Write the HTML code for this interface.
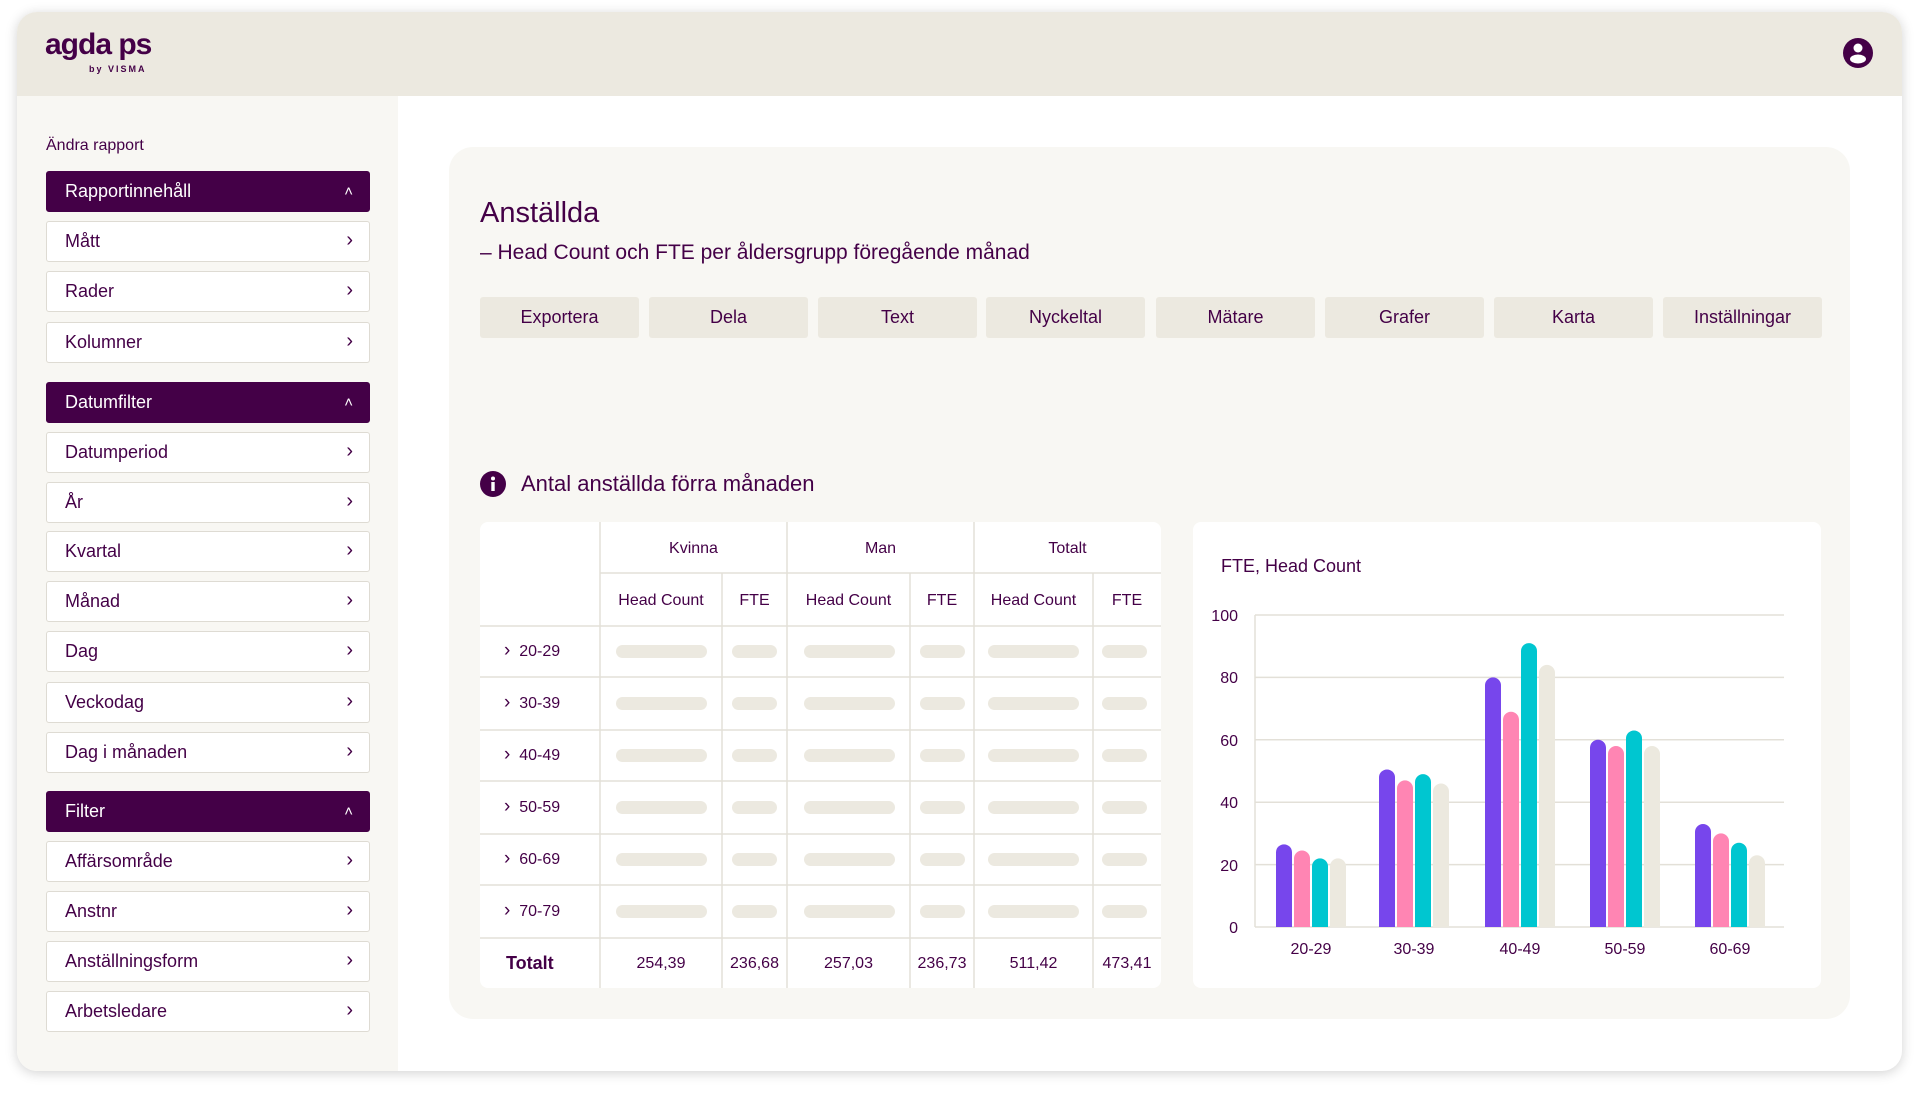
<!DOCTYPE html>
<html><head><meta charset="utf-8"><style>
*{box-sizing:border-box;margin:0;padding:0}
body{width:1920px;height:1095px;background:#fff;font-family:"Liberation Sans",sans-serif;color:#440047;position:relative;overflow:hidden}
.win{position:absolute;left:17px;top:12px;width:1885px;height:1059px;border-radius:20px;background:#fff;box-shadow:0 2px 12px rgba(0,0,0,.18);overflow:hidden}
.hdr{position:absolute;left:0;top:0;width:100%;height:84px;background:#ece9e0}
.side{position:absolute;left:0;top:84px;width:381px;height:975px;background:#f8f7f3}
.a{position:absolute}
.item{position:absolute;left:29px;width:324px;height:41px;border:1.5px solid #dedbd3;background:#fff;border-radius:3px;font-size:18px;line-height:38px;padding-left:18px}
.item:after{content:"›";position:absolute;right:16px;top:-1px;font-size:20px}
.item.dk{background:#440047;color:#fff;border-color:#440047}
.item.dk:after{content:"˄";font-size:15px;top:1px}
.card{position:absolute;left:432px;top:135px;width:1401px;height:872px;background:#f8f7f3;border-radius:24px}
.btn{position:absolute;top:150px;height:41px;width:159px;background:#ece9e0;border-radius:3px;text-align:center;line-height:41px;font-size:18px}
.pill{position:absolute;height:13px;background:#ece9e0;border-radius:7px}
.t{position:absolute;text-align:center;font-size:16px}
</style></head><body>
<div class="win">
 <div class="hdr">
  <div class="a" style="left:28px;top:18px;font-size:30px;font-weight:bold;letter-spacing:-1px;line-height:30px">agda ps</div>
  <div class="a" style="left:72px;top:52px;font-size:9px;font-weight:bold;letter-spacing:2px">by VISMA</div>
  <svg class="a" style="left:1826px;top:26px" width="30" height="30" viewBox="0 0 30 30"><circle cx="15" cy="15" r="15" fill="#440047"/><circle cx="15" cy="10" r="4.5" fill="#fff"/><ellipse cx="15" cy="21" rx="8" ry="4.5" fill="#fff"/></svg>
 </div>
 <div class="side">
  <div class="a" style="left:29px;top:41px;font-size:16px">Ändra rapport</div>
 </div>
 <div class="item dk" style="top:159px">Rapportinnehåll</div>
 <div class="item" style="top:209px">Mått</div>
 <div class="item" style="top:259px">Rader</div>
 <div class="item" style="top:310px">Kolumner</div>
 <div class="item dk" style="top:370px">Datumfilter</div>
 <div class="item" style="top:420px">Datumperiod</div>
 <div class="item" style="top:470px">År</div>
 <div class="item" style="top:519px">Kvartal</div>
 <div class="item" style="top:569px">Månad</div>
 <div class="item" style="top:619px">Dag</div>
 <div class="item" style="top:670px">Veckodag</div>
 <div class="item" style="top:720px">Dag i månaden</div>
 <div class="item dk" style="top:779px">Filter</div>
 <div class="item" style="top:829px">Affärsområde</div>
 <div class="item" style="top:879px">Anstnr</div>
 <div class="item" style="top:929px">Anställningsform</div>
 <div class="item" style="top:979px">Arbetsledare</div>

 <div class="card">
  <div class="a" style="left:31px;top:50px;font-size:29px">Anställda</div>
  <div class="a" style="left:31px;top:94px;font-size:21px">– Head Count och FTE per åldersgrupp föregående månad</div>
  <div class="btn" style="left:31px">Exportera</div>
  <div class="btn" style="left:200px">Dela</div>
  <div class="btn" style="left:369px">Text</div>
  <div class="btn" style="left:537px">Nyckeltal</div>
  <div class="btn" style="left:707px">Mätare</div>
  <div class="btn" style="left:876px">Grafer</div>
  <div class="btn" style="left:1045px">Karta</div>
  <div class="btn" style="left:1214px">Inställningar</div>
  <svg class="a" style="left:31px;top:324px" width="26" height="26"><circle cx="13" cy="13" r="13" fill="#440047"/><rect x="11.3" y="11" width="3.4" height="9" fill="#fff"/><circle cx="13" cy="7.5" r="2" fill="#fff"/></svg>
  <div class="a" style="left:72px;top:324px;font-size:22px">Antal anställda förra månaden</div>
 </div>

 <div class="a" style="left:463px;top:510px;width:681px;height:466px;background:#fff;border-radius:8px">
  <svg class="a" style="left:0;top:0" width="681" height="466">
   <g stroke="#e3e0d8" stroke-width="1.5">
    <line x1="120" y1="0" x2="120" y2="466"/><line x1="307" y1="0" x2="307" y2="466"/><line x1="494" y1="0" x2="494" y2="466"/>
    <line x1="242" y1="51" x2="242" y2="466"/><line x1="430" y1="51" x2="430" y2="466"/><line x1="613" y1="51" x2="613" y2="466"/>
    <line x1="120" y1="51" x2="681" y2="51"/>
    <line x1="0" y1="104" x2="681" y2="104"/><line x1="0" y1="155" x2="681" y2="155"/><line x1="0" y1="208" x2="681" y2="208"/>
    <line x1="0" y1="259" x2="681" y2="259"/><line x1="0" y1="312" x2="681" y2="312"/><line x1="0" y1="363" x2="681" y2="363"/><line x1="0" y1="416" x2="681" y2="416"/>
   </g>
  </svg>
  <div class="t" style="left:120px;width:187px;top:18px">Kvinna</div>
  <div class="t" style="left:307px;width:187px;top:18px">Man</div>
  <div class="t" style="left:494px;width:187px;top:18px">Totalt</div>
  <div class="t" style="left:120px;width:122px;top:70px">Head Count</div>
  <div class="t" style="left:242px;width:65px;top:70px">FTE</div>
  <div class="t" style="left:307px;width:123px;top:70px">Head Count</div>
  <div class="t" style="left:430px;width:64px;top:70px">FTE</div>
  <div class="t" style="left:494px;width:119px;top:70px">Head Count</div>
  <div class="t" style="left:613px;width:68px;top:70px">FTE</div>
  <div id="rows"></div>
  <div class="a" style="left:26px;top:431px;font-size:18px;font-weight:bold">Totalt</div>
  <div class="t" style="left:120px;width:122px;top:433px">254,39</div>
  <div class="t" style="left:242px;width:65px;top:433px">236,68</div>
  <div class="t" style="left:307px;width:123px;top:433px">257,03</div>
  <div class="t" style="left:430px;width:64px;top:433px">236,73</div>
  <div class="t" style="left:494px;width:119px;top:433px">511,42</div>
  <div class="t" style="left:613px;width:68px;top:433px">473,41</div>
 </div>

 <div class="a" style="left:1176px;top:510px;width:628px;height:466px;background:#fff;border-radius:8px">
  <div class="a" style="left:28px;top:34px;font-size:18px">FTE, Head Count</div>
  <svg class="a" style="left:0;top:0" width="628" height="466">
   <g stroke="#e3e0d8" stroke-width="1.5">
    <line x1="62" y1="93" x2="591" y2="93"/><line x1="62" y1="155.4" x2="591" y2="155.4"/><line x1="62" y1="217.8" x2="591" y2="217.8"/>
    <line x1="62" y1="280.2" x2="591" y2="280.2"/><line x1="62" y1="342.6" x2="591" y2="342.6"/><line x1="62" y1="405" x2="591" y2="405"/>
    <line x1="62" y1="93" x2="62" y2="405"/>
   </g>
   <g font-family="Liberation Sans,sans-serif" font-size="16" fill="#440047" text-anchor="end">
    <text x="45" y="99">100</text><text x="45" y="161">80</text><text x="45" y="224">60</text><text x="45" y="286">40</text><text x="45" y="349">20</text><text x="45" y="411">0</text>
   </g>
   <g font-family="Liberation Sans,sans-serif" font-size="16" fill="#440047" text-anchor="middle">
    <text x="118" y="432">20-29</text><text x="221" y="432">30-39</text><text x="327" y="432">40-49</text><text x="432" y="432">50-59</text><text x="537" y="432">60-69</text>
   </g>
   <g id="bars"></g>
  </svg>
 </div>
</div>
<script>
var rows=["20-29","30-39","40-49","50-59","60-69","70-79"],h="";
var pills=[[136,91],[252,45],[324,91],[440,45],[508,91],[622,45]];
rows.forEach(function(r,i){var y=104+i*52;
 h+='<div class="a" style="left:24px;top:'+(y+14)+'px;font-size:16px"><span style="font-size:19px">›</span>&nbsp;&nbsp;'+r+'</div>';
 pills.forEach(function(p){h+='<div class="pill" style="left:'+p[0]+'px;width:'+p[1]+'px;top:'+(y+19)+'px"></div>'});
});
document.getElementById("rows").innerHTML=h;
var d=[[26.5,24.5,22,22],[50.5,47,49,46],[80,69,91,84],[60,58,63,58],[33,30,27,23]];
var cs=[118,221,327,432,537],col=["#7746ec","#ff85b3","#00c6d0","#ece9df"],b="";
d.forEach(function(g,i){g.forEach(function(v,j){var x=cs[i]-35+j*18,hh=v*3.12,y=405-hh;
 b+='<path d="M'+x+' 405V'+(y+8)+'a8 8 0 0 1 16 0V405Z" fill="'+col[j]+'"/>';});});
document.getElementById("bars").innerHTML=b;
</script>
</body></html>
